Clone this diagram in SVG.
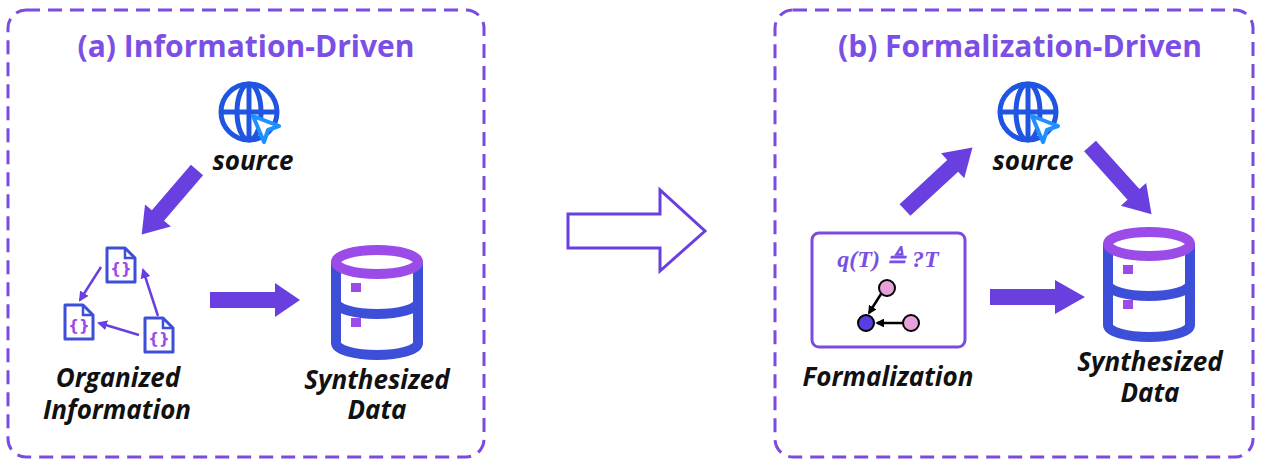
<svg xmlns="http://www.w3.org/2000/svg" width="1263" height="467" viewBox="0 0 1263 467">
<style>
.panel{fill:#fff;stroke:#7b4be0;stroke-width:3;stroke-dasharray:14 8}
.title{font-family:"Open Sans","Noto Sans",sans-serif;font-weight:bold;font-size:30px;fill:#7b4fe6;text-anchor:middle}
.lbl{font-family:"Open Sans","Noto Sans",sans-serif;font-weight:bold;font-style:italic;font-size:26px;fill:#111;text-anchor:middle}
.big{fill:#6a3fe0}
.thin{stroke:#6a3fe0;stroke-width:2.5;fill:none}
</style>
<defs>
<marker id="mh" viewBox="0 0 10 10" refX="8" refY="5" markerWidth="4" markerHeight="4" orient="auto"><path d="M0,0L10,5L0,10z" fill="#6a3fe0"/></marker>
<marker id="kh" viewBox="0 0 10 10" refX="8" refY="5" markerWidth="3.5" markerHeight="3.5" orient="auto"><path d="M0,0L10,5L0,10z" fill="#000"/></marker>
<g id="globe">
<circle r="28" fill="none" stroke="#1f55e0" stroke-width="5"/>
<ellipse rx="12" ry="28" fill="none" stroke="#1f55e0" stroke-width="5"/>
<line x1="-28" y1="0" x2="28" y2="0" stroke="#1f55e0" stroke-width="5"/>
<line x1="0" y1="-28" x2="0" y2="28" stroke="#1f55e0" stroke-width="5"/>
<path d="M4,4 L30,14 L19,18 L15,30 Z" fill="#fff" stroke="#1e90ff" stroke-width="4" stroke-linejoin="round"/>
</g>
<g id="db">
<path d="M-41,14 V95 A41,12 0 0 0 41,95 V14" fill="none" stroke="#3d4fd8" stroke-width="10"/>
<path d="M-41,54 A41,12 0 0 0 41,54" fill="none" stroke="#3d4fd8" stroke-width="10"/>
<ellipse cx="0" cy="14" rx="41" ry="12" fill="none" stroke="#9b4ce8" stroke-width="10"/>
<rect x="-26" y="35" width="10" height="9" fill="#9b4ce8"/>
<rect x="-26" y="70" width="10" height="9" fill="#9b4ce8"/>
</g>
<g id="doc">
<path d="M0,0 H18 L28,10 V34 H0 Z" fill="#fff" stroke="#3d4fd8" stroke-width="3" stroke-linejoin="round"/>
<path d="M18,0 V10 H28" fill="none" stroke="#3d4fd8" stroke-width="2.5"/>
<text x="14" y="26" font-family="DejaVu Sans,sans-serif" font-weight="bold" font-size="15" fill="#9b4ce8" text-anchor="middle">{}</text>
</g>
</defs>

<g id="panel-a">
<rect class="panel" x="8" y="10" width="476" height="447" rx="18"/>
<text class="title" x="246" y="57">(a) Information-Driven</text>
</g>
<g id="panel-b">
<rect class="panel" x="775" y="10" width="478" height="447" rx="18"/>
<text class="title" x="1020" y="57">(b) Formalization-Driven</text>
</g>

<g id="source-a"><use href="#globe" x="249" y="112"/><text class="lbl" x="253" y="170">source</text></g>
<g id="org-info">
<use href="#doc" x="107" y="248"/><use href="#doc" x="65" y="305"/><use href="#doc" x="145" y="318"/>
<text class="lbl" x="118" y="387">Organized</text><text class="lbl" x="117" y="419">Information</text>
</g>
<g id="synth-a"><use href="#db" x="377" y="248"/><text class="lbl" x="377" y="389">Synthesized</text><text class="lbl" x="377" y="419">Data</text></g>

<g id="source-b"><use href="#globe" x="1028" y="112"/><text class="lbl" x="1033" y="170">source</text></g>
<g id="formalization">
<rect x="812" y="233" width="153" height="114" rx="7" fill="#fff" stroke="#7b4be0" stroke-width="3"/>
<text x="888" y="267" font-family="Liberation Serif,serif" font-weight="bold" font-style="italic" font-size="24" fill="#7b4fe6" text-anchor="middle">q(T) ≜ ?T</text>
<line x1="881" y1="294" x2="869" y2="313" stroke="#000" stroke-width="2.5" marker-end="url(#kh)"/>
<line x1="903" y1="323" x2="877" y2="323" stroke="#000" stroke-width="2.5" marker-end="url(#kh)"/>
<circle cx="887" cy="288" r="8" fill="#e8a0d8" stroke="#000" stroke-width="2"/>
<circle cx="866" cy="323" r="8" fill="#5a3de0" stroke="#000" stroke-width="2"/>
<circle cx="911" cy="323" r="8" fill="#e8a0d8" stroke="#000" stroke-width="2"/>
<text class="lbl" x="888" y="386">Formalization</text>
</g>
<g id="synth-b"><use href="#db" x="1149" y="230"/><text class="lbl" x="1150" y="371">Synthesized</text><text class="lbl" x="1150" y="402">Data</text></g>

<g id="connectors">
<path class="big" d="M0,-8 H60 V-17 L85,0 L60,17 V8 H0 Z" transform="translate(197,170) rotate(130.6)"/>
<path class="big" d="M0,-8 H65 V-17 L90,0 L65,17 V8 H0 Z" transform="translate(210,300)"/>
<path class="big" d="M0,-8 H65 V-17 L95,0 L65,17 V8 H0 Z" transform="translate(990,297)"/>
<path class="big" d="M0,-8 H65 V-17 L92,0 L65,17 V8 H0 Z" transform="translate(905,210) rotate(-42.8)"/>
<path class="big" d="M0,-8 H65 V-17 L92,0 L65,17 V8 H0 Z" transform="translate(1090,146) rotate(48)"/>
<line class="thin" x1="101" y1="267" x2="80" y2="300" marker-end="url(#mh)"/>
<line class="thin" x1="158" y1="316" x2="143" y2="270" marker-end="url(#mh)"/>
<line class="thin" x1="139" y1="335" x2="99" y2="323" marker-end="url(#mh)"/>
<path d="M568,214 H660 V190 L705,231 L660,271 V248 H568 Z" fill="#fff" stroke="#6a3fe0" stroke-width="3"/>
</g>
</svg>
